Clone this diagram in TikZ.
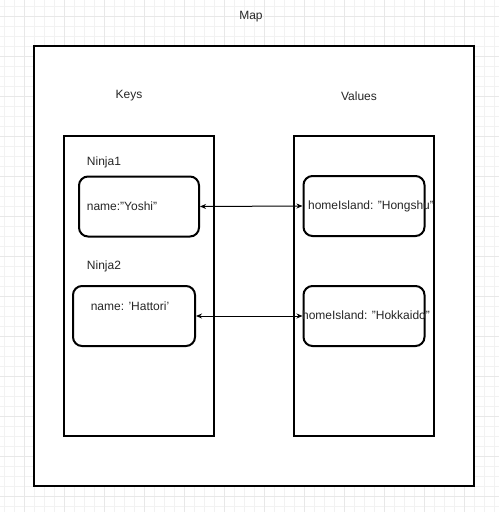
\documentclass[tikz,border=0pt]{standalone}
\usepackage{fontspec}
\setmainfont{Liberation Sans}
\usetikzlibrary{positioning,arrows.meta}
\tikzset{
  frame/.style={draw,line width=2pt,fill=white,inner sep=0pt},
  entry/.style={draw,line width=2pt,rounded corners=9pt,inner sep=0pt,minimum width=121pt,minimum height=60pt},
  txt/.style={inner sep=0pt,text=black!85,font=\fontsize{12}{14}\selectfont},
}
\begin{document}
\begin{tikzpicture}[>={Stealth[length=6pt,width=5pt]},x=1pt,y=-1pt]
	\useasboundingbox (0,0) rectangle (499,512);
	\fill[white] (0,0) rectangle (499,512);
	% grid
	\foreach \i in {4,14,...,494} \draw[black!5,line width=0.6pt] (\i,0) -- (\i,512);
	\foreach \j in {6,16,...,506} \draw[black!5,line width=0.6pt] (0,\j) -- (499,\j);
	\foreach \i in {24,64,...,464} \draw[black!9,line width=0.8pt] (\i,0) -- (\i,512);
	\foreach \j in {16,56,...,496} \draw[black!9,line width=0.8pt] (0,\j) -- (499,\j);
	% boxes
	\node[frame,minimum width=440pt,minimum height=440pt] (map) at (254,266) {};
	\node[txt] (maplabel) at (251,17) {Map};
	\node[txt] (keyslabel) at (129,96) {Keys};
	\node[txt] (valueslabel) at (359,96) {Values};
	\node[frame,minimum width=150pt,minimum height=300pt] (keys) at (139,286) {};
	\node[frame,minimum width=140pt,minimum height=300pt] (values) at (364,286) {};
	% keys
	\node[txt] (ninja1) at (104,162) {Ninja1};
	\node[entry,minimum width=120pt] (yoshi) at (139,206.5) {};
	\node[txt] (yoshitext) at (122,206) {name:"Yoshi"};
	\node[txt] (ninja2) at (104,266) {Ninja2};
	\node[entry,minimum width=122pt] (hattori) at (134,316) {};
	\node[txt] (hattoritext) at (130,306) {name: 'Hattori'};
	% values
	\node[entry] (hongshu) at (364,206) {};
	\node[txt] (hongshutext) at (371,206) {homeIsland: "Hongshu"};
	\node[entry] (hokkaido) at (364,316) {};
	\node[txt] (hokkaidotext) at (366,315) {homeIsland: "Hokkaido"};
	% links
	\draw[<->,line width=1pt] (yoshi.east) -- (hongshu.west);
	\draw[<->,line width=1pt] (hattori.east) -- (hokkaido.west);
\end{tikzpicture}
\end{document}
